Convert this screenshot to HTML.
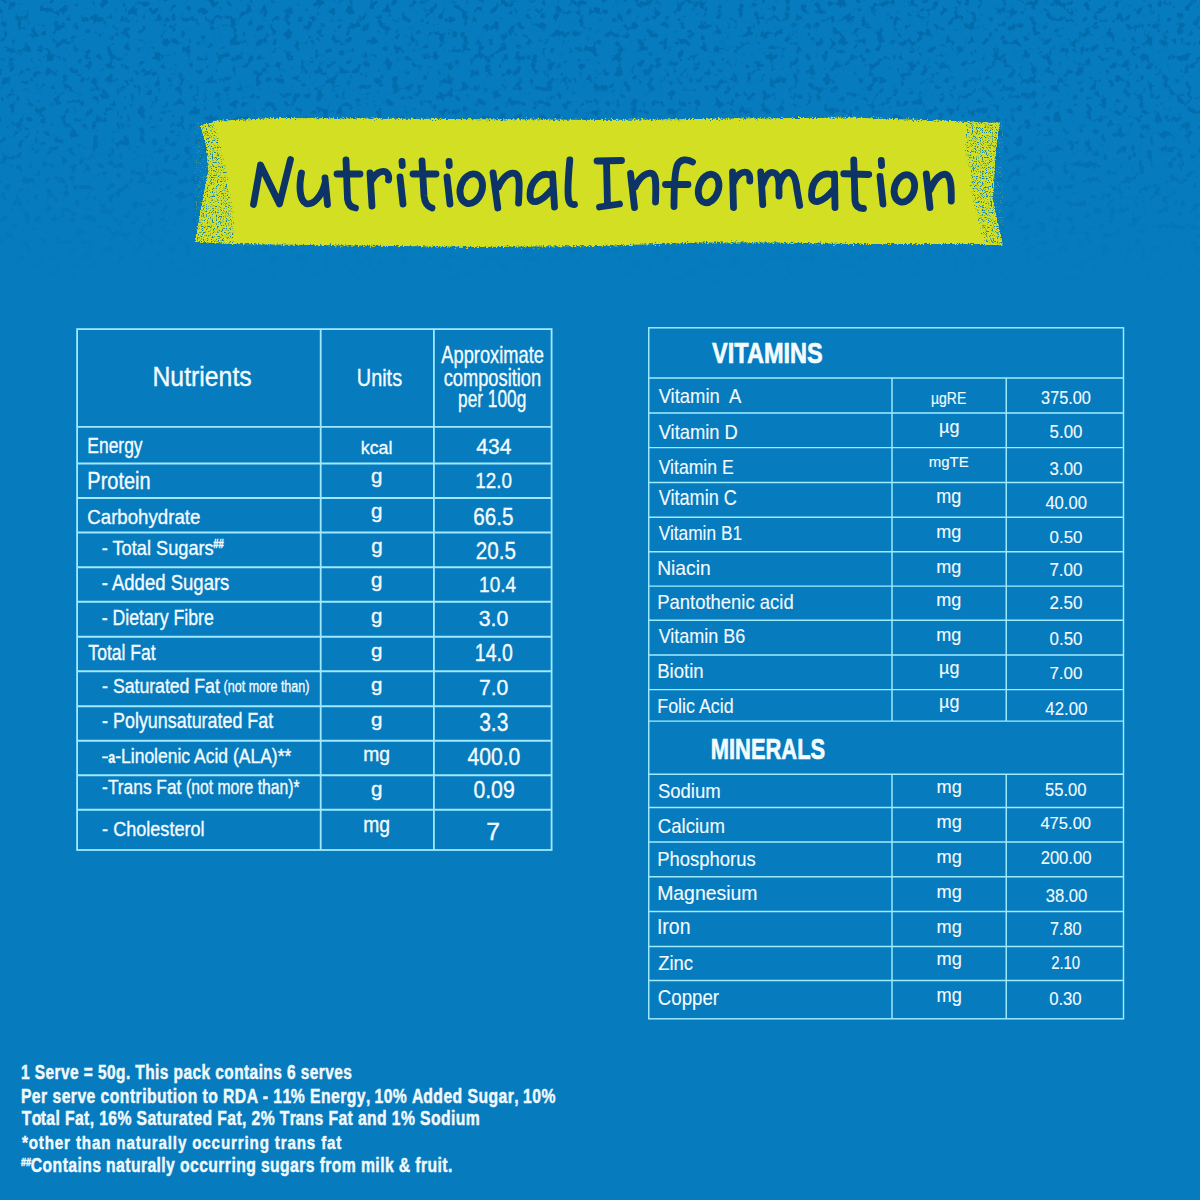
<!DOCTYPE html>
<html><head><meta charset="utf-8">
<style>
html,body{margin:0;padding:0;width:1200px;height:1200px;overflow:hidden;background:#067cbf;}
svg{display:block;}
text{font-family:"Liberation Sans",sans-serif;white-space:pre;}
</style></head>
<body>
<svg width="1200" height="1200" viewBox="0 0 1200 1200">
<defs>
<filter id="noise" x="0" y="0" width="100%" height="100%" color-interpolation-filters="sRGB">
<feTurbulence type="fractalNoise" baseFrequency="0.13" numOctaves="3" seed="7" result="t"/>
<feColorMatrix in="t" type="matrix" values="0 0 0 0 0.0  0 0 0 0 0.36  0 0 0 0 0.6  0 0 0 8 -4.5" />
</filter>
<linearGradient id="fade" x1="0" y1="0" x2="0" y2="1">
<stop offset="0" stop-color="#fff" stop-opacity="1"/>
<stop offset="0.1" stop-color="#fff" stop-opacity="0.85"/>
<stop offset="0.24" stop-color="#fff" stop-opacity="0"/>
</linearGradient>
<mask id="fm"><rect width="1200" height="1200" fill="url(#fade)"/></mask>
<filter id="rough" x="-5%" y="-20%" width="110%" height="140%">
<feTurbulence type="fractalNoise" baseFrequency="0.6" numOctaves="2" seed="3" result="n"/>
<feDisplacementMap in="SourceGraphic" in2="n" scale="6" xChannelSelector="R" yChannelSelector="G"/>
</filter>
<linearGradient id="gL" x1="0" x2="1"><stop offset="0" stop-color="#fff" stop-opacity="0.6"/><stop offset="1" stop-color="#fff" stop-opacity="1"/></linearGradient>
<linearGradient id="gR" x1="1" x2="0"><stop offset="0" stop-color="#fff" stop-opacity="0.6"/><stop offset="1" stop-color="#fff" stop-opacity="1"/></linearGradient>
<filter id="speck" x="0" y="0" width="1" height="1" color-interpolation-filters="sRGB">
<feTurbulence type="fractalNoise" baseFrequency="0.8" numOctaves="2" seed="11" result="n"/>
<feColorMatrix in="n" type="matrix" values="0 0 0 0 0  0 0 0 0 0  0 0 0 0 0  2.5 0 0 0 -0.75" result="na"/>
<feComposite in="SourceGraphic" in2="na" operator="arithmetic" k1="0" k2="1" k3="1" k4="-0.85" result="s"/>
<feComponentTransfer in="s" result="t"><feFuncA type="linear" slope="2.2" intercept="-0.05"/></feComponentTransfer>
<feFlood flood-color="#d3df22" result="f"/>
<feComposite in="f" in2="t" operator="in"/>
<feGaussianBlur stdDeviation="0.6"/>
</filter>
</defs>
<rect width="1200" height="1200" fill="#067cbf"/>
<rect width="1200" height="1200" filter="url(#noise)" mask="url(#fm)" opacity="0.55"/>
<g id="banner">
<path d="M213,121 L275,118 L450,119 L600,120 L700,119 L850,117.5 L950,121 L966,122 L966,150 L974,200 L986,244 L950,244 L850,244 L780,242.5 L700,242.5 L600,246 L480,247 L350,245.5 L234,244 L232,210 L225,170 Z" fill="#d3df22" filter="url(#rough)"/>
<path d="M200,125 L214,122 L226,170 L233,210 L235,244.5 L195,242 L201,207 L208,170 L206,146 Z" fill="#fff" fill-opacity="0.9" filter="url(#speck)"/>
<path d="M965,121.5 L1000,122.5 L996,150 L993,200 L1003,245.5 L985,245 L973,200 L965,150 Z" fill="#fff" fill-opacity="0.9" filter="url(#speck)"/>
</g>
<g id="title" fill="none" stroke="#0c3467" stroke-width="6.8" stroke-linecap="round" stroke-linejoin="round">
<path d="M253.5,204.5 L260.5,165 L279.5,204 L290.5,159.5"/>
<path d="M301.5,173 C299,185 299,200 306,203.5 C313,206 322,196 325,183 M325,178 L327.5,204.5"/>
<path d="M346,160 L347.5,199 Q348.5,207 355.5,208 M337,174 L360,174"/>
<path d="M370,173 L372,206 M372,180 C375,173 382,170 386,172 C389,174 389,178 388.5,180"/>
<path d="M400,177 L403,204 M402,161.5 L402.3,165.5"/>
<path d="M422,161 L424,196 Q425,206 432,208 M413,174 L436,174"/>
<path d="M447,177 L450,204 M449,161.5 L449.3,165.5"/>
<ellipse cx="471.25" cy="188.7" rx="10.8" ry="15.2" transform="rotate(18 471.25 188.7)"/>
<path d="M493,172.8 L497.8,208 M498.5,187 C503,176 511,171 516,174 C520,177 519.5,185 518.5,203"/>
<path d="M552,176 C541,170 530,182 530,195 C530,206 541,203 552,189 M552.5,174 L554.5,207"/>
<path d="M569.8,160 C568.5,175 567,190 568.5,199 Q569.5,205 574.5,204.5"/>
<path d="M597,161 L621.5,160.5 M606.5,162 L607.5,205.5 M599.5,207 L619.5,204"/>
<path d="M630.5,173.5 L634.5,207.5 M635,187 C640,176 648,171 653,174 C656.5,177 656,186 655.5,202"/>
<path d="M692.5,162 C688,159 680,158 677,166 C675,172 674,190 674,206.5 M665.5,184.5 L688,184.5"/>
<ellipse cx="708.6" cy="188.5" rx="9.8" ry="14.6" transform="rotate(18 708.6 188.5)"/>
<path d="M732.5,172 L733.5,207.5 M733.5,183 C736,175 742,171 747,172.5 C750,174 750,178 749.8,181"/>
<path d="M760.7,172 L762.8,204.5 M762.8,184 C765,176 769,172 773,172.5 C777,173 779,178 779,186 L779,196 M779,185 C781,177 785,172.5 789,172.5 C794,173 796,180 797,190 L799.7,205.5"/>
<path d="M834,175.5 C822,170 811.5,180 811.5,195 C811.5,205 822,204 834,189 M834.5,174 L835,207.5"/>
<path d="M853.75,160 L855,201 Q856,208.5 863.5,208.5 M843.75,173.75 L868.75,174.5"/>
<path d="M880,176.5 L883,204 M881.25,160.5 L881.6,165.5"/>
<ellipse cx="904.4" cy="188.4" rx="9.8" ry="14" transform="rotate(18 904.4 188.4)"/>
<path d="M926.25,174 L930,207.5 M930,190 C935,178 942,172 947,175 C951,178 951.5,188 951.25,201"/>
</g>
<g stroke="#a0e8fd" stroke-width="1.8" fill="none"><rect x="77.1" y="329.1" width="474.50" height="520.90" fill="none"/><line x1="320.7" y1="329.1" x2="320.7" y2="850"/><line x1="433.9" y1="329.1" x2="433.9" y2="850"/><line x1="77.1" y1="426.8" x2="551.6" y2="426.8"/><line x1="77.1" y1="463.5" x2="551.6" y2="463.5"/><line x1="77.1" y1="498" x2="551.6" y2="498"/><line x1="77.1" y1="532.5" x2="551.6" y2="532.5"/><line x1="77.1" y1="567.25" x2="551.6" y2="567.25"/><line x1="77.1" y1="601.75" x2="551.6" y2="601.75"/><line x1="77.1" y1="636.75" x2="551.6" y2="636.75"/><line x1="77.1" y1="671.25" x2="551.6" y2="671.25"/><line x1="77.1" y1="706.25" x2="551.6" y2="706.25"/><line x1="77.1" y1="740.75" x2="551.6" y2="740.75"/><line x1="77.1" y1="775.25" x2="551.6" y2="775.25"/><line x1="77.1" y1="809.75" x2="551.6" y2="809.75"/></g><g stroke="#a0ecff" stroke-width="1.45" fill="none"><rect x="648.75" y="327.8" width="474.75" height="691.00" fill="none"/><line x1="648.75" y1="378" x2="1123.5" y2="378"/><line x1="648.75" y1="413" x2="1123.5" y2="413"/><line x1="648.75" y1="447.6" x2="1123.5" y2="447.6"/><line x1="648.75" y1="482.5" x2="1123.5" y2="482.5"/><line x1="648.75" y1="517.2" x2="1123.5" y2="517.2"/><line x1="648.75" y1="551.8" x2="1123.5" y2="551.8"/><line x1="648.75" y1="586.1" x2="1123.5" y2="586.1"/><line x1="648.75" y1="620.3" x2="1123.5" y2="620.3"/><line x1="648.75" y1="654.9" x2="1123.5" y2="654.9"/><line x1="648.75" y1="689.6" x2="1123.5" y2="689.6"/><line x1="648.75" y1="721.1" x2="1123.5" y2="721.1"/><line x1="648.75" y1="774.2" x2="1123.5" y2="774.2"/><line x1="648.75" y1="807.5" x2="1123.5" y2="807.5"/><line x1="648.75" y1="842" x2="1123.5" y2="842"/><line x1="648.75" y1="876.8" x2="1123.5" y2="876.8"/><line x1="648.75" y1="911.5" x2="1123.5" y2="911.5"/><line x1="648.75" y1="946.5" x2="1123.5" y2="946.5"/><line x1="648.75" y1="980.4" x2="1123.5" y2="980.4"/><line x1="892" y1="378" x2="892" y2="721.1"/><line x1="892" y1="774.2" x2="892" y2="1018.8"/><line x1="1006.25" y1="378" x2="1006.25" y2="721.1"/><line x1="1006.25" y1="774.2" x2="1006.25" y2="1018.8"/></g>
<text x="152.45" y="386.10" font-size="26.90" fill="#f4fbff" textLength="99.29" lengthAdjust="spacingAndGlyphs" stroke="#f4fbff" stroke-width="0.35">Nutrients</text>
<text x="356.76" y="386.30" font-size="24.00" fill="#f4fbff" textLength="45.36" lengthAdjust="spacingAndGlyphs" stroke="#f4fbff" stroke-width="0.35">Units</text>
<text x="441.35" y="362.50" font-size="24.00" fill="#f4fbff" textLength="102.55" lengthAdjust="spacingAndGlyphs" stroke="#f4fbff" stroke-width="0.35">Approximate</text>
<text x="443.72" y="386.30" font-size="23.17" fill="#f4fbff" textLength="97.44" lengthAdjust="spacingAndGlyphs" stroke="#f4fbff" stroke-width="0.35">composition</text>
<text x="458.08" y="407.00" font-size="24.37" fill="#f4fbff" textLength="68.21" lengthAdjust="spacingAndGlyphs" stroke="#f4fbff" stroke-width="0.35">per 100g</text>
<text x="87.31" y="453.10" font-size="22.33" fill="#f4fbff" textLength="55.25" lengthAdjust="spacingAndGlyphs" stroke="#f4fbff" stroke-width="0.35">Energy</text>
<text x="87.35" y="489.40" font-size="23.31" fill="#f4fbff" textLength="63.32" lengthAdjust="spacingAndGlyphs" stroke="#f4fbff" stroke-width="0.35">Protein</text>
<text x="87.32" y="523.75" font-size="20.69" fill="#f4fbff" textLength="113.01" lengthAdjust="spacingAndGlyphs" stroke="#f4fbff" stroke-width="0.35">Carbohydrate</text>
<text x="101.68" y="555.00" font-size="20.69" fill="#f4fbff" textLength="112.04" lengthAdjust="spacingAndGlyphs" stroke="#f4fbff" stroke-width="0.35">- Total Sugars</text>
<text x="213.33" y="547.50" font-size="11.91" font-weight="bold" fill="#f4fbff" textLength="10.58" lengthAdjust="spacingAndGlyphs" stroke="#f4fbff" stroke-width="0.35">##</text>
<text x="101.67" y="590.00" font-size="21.52" fill="#f4fbff" textLength="127.71" lengthAdjust="spacingAndGlyphs" stroke="#f4fbff" stroke-width="0.35">- Added Sugars</text>
<text x="101.70" y="625.00" font-size="21.38" fill="#f4fbff" textLength="112.09" lengthAdjust="spacingAndGlyphs" stroke="#f4fbff" stroke-width="0.35">- Dietary Fibre</text>
<text x="88.36" y="660.00" font-size="21.38" fill="#f4fbff" textLength="67.28" lengthAdjust="spacingAndGlyphs" stroke="#f4fbff" stroke-width="0.35">Total Fat</text>
<text x="102.11" y="692.50" font-size="19.45" fill="#f4fbff" textLength="117.73" lengthAdjust="spacingAndGlyphs" stroke="#f4fbff" stroke-width="0.35">- Saturated Fat</text>
<text x="223.61" y="692.10" font-size="17.03" fill="#f4fbff" textLength="85.91" lengthAdjust="spacingAndGlyphs" stroke="#f4fbff" stroke-width="0.35">(not more than)</text>
<text x="102.09" y="728.10" font-size="21.93" fill="#f4fbff" textLength="171.16" lengthAdjust="spacingAndGlyphs" stroke="#f4fbff" stroke-width="0.35">- Polyunsaturated Fat</text>
<rect x="102.2" y="756.4" width="5.8" height="1.9" fill="#f4fbff"/>
<text x="108.33" y="762.74" font-size="16.26" font-weight="bold" fill="#f4fbff" textLength="6.89" lengthAdjust="spacingAndGlyphs" stroke="#f4fbff" stroke-width="0.35">a</text>
<text x="115.21" y="762.90" font-size="20.00" fill="#f4fbff" textLength="176.07" lengthAdjust="spacingAndGlyphs" stroke="#f4fbff" stroke-width="0.35">-Linolenic Acid (ALA)**</text>
<text x="102.12" y="794.40" font-size="20.51" fill="#f4fbff" textLength="79.31" lengthAdjust="spacingAndGlyphs" stroke="#f4fbff" stroke-width="0.35">-Trans Fat</text>
<text x="185.92" y="794.40" font-size="19.45" fill="#f4fbff" textLength="113.73" lengthAdjust="spacingAndGlyphs" stroke="#f4fbff" stroke-width="0.35">(not more than)*</text>
<text x="102.09" y="835.60" font-size="20.69" fill="#f4fbff" textLength="102.52" lengthAdjust="spacingAndGlyphs" stroke="#f4fbff" stroke-width="0.35">- Cholesterol</text>
<text x="360.80" y="453.56" font-size="18.71" fill="#f4fbff" textLength="31.67" lengthAdjust="spacingAndGlyphs" stroke="#f4fbff" stroke-width="0.35">kcal</text>
<text x="371.13" y="483.32" font-size="20.13" fill="#f4fbff" textLength="11.43" lengthAdjust="spacingAndGlyphs" stroke="#f4fbff" stroke-width="0.35">g</text>
<text x="371.13" y="518.32" font-size="20.13" fill="#f4fbff" textLength="11.43" lengthAdjust="spacingAndGlyphs" stroke="#f4fbff" stroke-width="0.35">g</text>
<text x="371.13" y="553.18" font-size="20.81" fill="#f4fbff" textLength="11.43" lengthAdjust="spacingAndGlyphs" stroke="#f4fbff" stroke-width="0.35">g</text>
<text x="371.13" y="587.07" font-size="20.13" fill="#f4fbff" textLength="11.43" lengthAdjust="spacingAndGlyphs" stroke="#f4fbff" stroke-width="0.35">g</text>
<text x="371.13" y="623.32" font-size="20.13" fill="#f4fbff" textLength="11.43" lengthAdjust="spacingAndGlyphs" stroke="#f4fbff" stroke-width="0.35">g</text>
<text x="371.13" y="657.28" font-size="19.13" fill="#f4fbff" textLength="11.43" lengthAdjust="spacingAndGlyphs" stroke="#f4fbff" stroke-width="0.35">g</text>
<text x="371.13" y="691.17" font-size="18.46" fill="#f4fbff" textLength="11.43" lengthAdjust="spacingAndGlyphs" stroke="#f4fbff" stroke-width="0.35">g</text>
<text x="371.13" y="726.17" font-size="18.46" fill="#f4fbff" textLength="11.43" lengthAdjust="spacingAndGlyphs" stroke="#f4fbff" stroke-width="0.35">g</text>
<text x="371.13" y="795.82" font-size="20.13" fill="#f4fbff" textLength="11.43" lengthAdjust="spacingAndGlyphs" stroke="#f4fbff" stroke-width="0.35">g</text>
<text x="363.20" y="760.82" font-size="20.13" fill="#f4fbff" textLength="26.79" lengthAdjust="spacingAndGlyphs" stroke="#f4fbff" stroke-width="0.35">mg</text>
<text x="363.20" y="831.72" font-size="21.81" fill="#f4fbff" textLength="26.79" lengthAdjust="spacingAndGlyphs" stroke="#f4fbff" stroke-width="0.35">mg</text>
<text x="476.28" y="454.25" font-size="22.22" fill="#f4fbff" textLength="35.07" lengthAdjust="spacingAndGlyphs" stroke="#f4fbff" stroke-width="0.35">434</text>
<text x="475.34" y="488.00" font-size="22.22" fill="#f4fbff" textLength="36.64" lengthAdjust="spacingAndGlyphs" stroke="#f4fbff" stroke-width="0.35">12.0</text>
<text x="473.22" y="525.00" font-size="23.30" fill="#f4fbff" textLength="40.13" lengthAdjust="spacingAndGlyphs" stroke="#f4fbff" stroke-width="0.35">66.5</text>
<text x="475.72" y="558.75" font-size="23.30" fill="#f4fbff" textLength="40.13" lengthAdjust="spacingAndGlyphs" stroke="#f4fbff" stroke-width="0.35">20.5</text>
<text x="479.08" y="592.00" font-size="22.58" fill="#f4fbff" textLength="36.97" lengthAdjust="spacingAndGlyphs" stroke="#f4fbff" stroke-width="0.35">10.4</text>
<text x="478.70" y="626.25" font-size="21.51" fill="#f4fbff" textLength="29.60" lengthAdjust="spacingAndGlyphs" stroke="#f4fbff" stroke-width="0.35">3.0</text>
<text x="474.79" y="661.25" font-size="24.01" fill="#f4fbff" textLength="37.97" lengthAdjust="spacingAndGlyphs" stroke="#f4fbff" stroke-width="0.35">14.0</text>
<text x="478.94" y="695.00" font-size="22.58" fill="#f4fbff" textLength="29.35" lengthAdjust="spacingAndGlyphs" stroke="#f4fbff" stroke-width="0.35">7.0</text>
<text x="479.21" y="731.25" font-size="25.09" fill="#f4fbff" textLength="29.18" lengthAdjust="spacingAndGlyphs" stroke="#f4fbff" stroke-width="0.35">3.3</text>
<text x="467.53" y="765.00" font-size="23.30" fill="#f4fbff" textLength="52.77" lengthAdjust="spacingAndGlyphs" stroke="#f4fbff" stroke-width="0.35">400.0</text>
<text x="473.40" y="797.50" font-size="23.30" fill="#f4fbff" textLength="41.33" lengthAdjust="spacingAndGlyphs" stroke="#f4fbff" stroke-width="0.35">0.09</text>
<text x="486.26" y="839.50" font-size="24.73" fill="#f4fbff" textLength="13.75" lengthAdjust="spacingAndGlyphs" stroke="#f4fbff" stroke-width="0.35">7</text>
<text x="712.07" y="363.00" font-size="29.25" font-weight="bold" fill="#f4fbff" textLength="110.74" lengthAdjust="spacingAndGlyphs" stroke="#f4fbff" stroke-width="0.7" stroke-linejoin="round">VITAMINS</text>
<text x="710.77" y="758.60" font-size="30.11" font-weight="bold" fill="#f4fbff" textLength="114.40" lengthAdjust="spacingAndGlyphs" stroke="#f4fbff" stroke-width="0.7" stroke-linejoin="round">MINERALS</text>
<text x="658.66" y="402.50" font-size="20.69" fill="#f4fbff" textLength="82.62" lengthAdjust="spacingAndGlyphs" stroke="#f4fbff" stroke-width="0.12">Vitamin  A</text>
<text x="658.66" y="438.75" font-size="20.69" fill="#f4fbff" textLength="79.20" lengthAdjust="spacingAndGlyphs" stroke="#f4fbff" stroke-width="0.12">Vitamin D</text>
<text x="658.66" y="473.75" font-size="20.69" fill="#f4fbff" textLength="75.07" lengthAdjust="spacingAndGlyphs" stroke="#f4fbff" stroke-width="0.12">Vitamin E</text>
<text x="658.66" y="505.00" font-size="21.38" fill="#f4fbff" textLength="78.25" lengthAdjust="spacingAndGlyphs" stroke="#f4fbff" stroke-width="0.12">Vitamin C</text>
<text x="658.66" y="539.50" font-size="20.69" fill="#f4fbff" textLength="83.41" lengthAdjust="spacingAndGlyphs" stroke="#f4fbff" stroke-width="0.12">Vitamin B1</text>
<text x="657.16" y="574.50" font-size="20.69" fill="#f4fbff" textLength="53.57" lengthAdjust="spacingAndGlyphs" stroke="#f4fbff" stroke-width="0.12">Niacin</text>
<text x="657.23" y="608.75" font-size="20.69" fill="#f4fbff" textLength="136.46" lengthAdjust="spacingAndGlyphs" stroke="#f4fbff" stroke-width="0.12">Pantothenic acid</text>
<text x="658.66" y="643.25" font-size="20.69" fill="#f4fbff" textLength="86.60" lengthAdjust="spacingAndGlyphs" stroke="#f4fbff" stroke-width="0.12">Vitamin B6</text>
<text x="657.22" y="678.25" font-size="20.69" fill="#f4fbff" textLength="46.47" lengthAdjust="spacingAndGlyphs" stroke="#f4fbff" stroke-width="0.12">Biotin</text>
<text x="657.28" y="712.50" font-size="20.69" fill="#f4fbff" textLength="76.37" lengthAdjust="spacingAndGlyphs" stroke="#f4fbff" stroke-width="0.12">Folic Acid</text>
<text x="657.92" y="798.00" font-size="20.69" fill="#f4fbff" textLength="62.80" lengthAdjust="spacingAndGlyphs" stroke="#f4fbff" stroke-width="0.12">Sodium</text>
<text x="657.82" y="832.50" font-size="20.69" fill="#f4fbff" textLength="67.13" lengthAdjust="spacingAndGlyphs" stroke="#f4fbff" stroke-width="0.12">Calcium</text>
<text x="657.23" y="865.75" font-size="20.00" fill="#f4fbff" textLength="98.41" lengthAdjust="spacingAndGlyphs" stroke="#f4fbff" stroke-width="0.12">Phosphorus</text>
<text x="657.15" y="900.00" font-size="19.66" fill="#f4fbff" textLength="100.40" lengthAdjust="spacingAndGlyphs" stroke="#f4fbff" stroke-width="0.12">Magnesium</text>
<text x="656.95" y="934.25" font-size="21.45" fill="#f4fbff" textLength="33.53" lengthAdjust="spacingAndGlyphs" stroke="#f4fbff" stroke-width="0.12">Iron</text>
<text x="658.15" y="969.50" font-size="20.69" fill="#f4fbff" textLength="34.84" lengthAdjust="spacingAndGlyphs" stroke="#f4fbff" stroke-width="0.12">Zinc</text>
<text x="657.82" y="1004.50" font-size="21.51" fill="#f4fbff" textLength="61.21" lengthAdjust="spacingAndGlyphs" stroke="#f4fbff" stroke-width="0.12">Copper</text>
<text x="931.06" y="404.00" font-size="16.36" fill="#f4fbff" textLength="35.22" lengthAdjust="spacingAndGlyphs" stroke="#f4fbff" stroke-width="0.12">µgRE</text>
<text x="939.03" y="433.02" font-size="17.72" fill="#f4fbff" textLength="20.38" lengthAdjust="spacingAndGlyphs" stroke="#f4fbff" stroke-width="0.12">µg</text>
<text x="928.74" y="466.70" font-size="14.84" fill="#f4fbff" textLength="39.89" lengthAdjust="spacingAndGlyphs" stroke="#f4fbff" stroke-width="0.12">mgTE</text>
<text x="936.28" y="503.11" font-size="19.73" fill="#f4fbff" textLength="25.08" lengthAdjust="spacingAndGlyphs" stroke="#f4fbff" stroke-width="0.12">mg</text>
<text x="936.28" y="538.02" font-size="19.19" fill="#f4fbff" textLength="25.08" lengthAdjust="spacingAndGlyphs" stroke="#f4fbff" stroke-width="0.12">mg</text>
<text x="936.28" y="573.03" font-size="19.13" fill="#f4fbff" textLength="25.08" lengthAdjust="spacingAndGlyphs" stroke="#f4fbff" stroke-width="0.12">mg</text>
<text x="936.28" y="606.24" font-size="18.12" fill="#f4fbff" textLength="25.08" lengthAdjust="spacingAndGlyphs" stroke="#f4fbff" stroke-width="0.12">mg</text>
<text x="936.28" y="640.92" font-size="18.46" fill="#f4fbff" textLength="25.08" lengthAdjust="spacingAndGlyphs" stroke="#f4fbff" stroke-width="0.12">mg</text>
<text x="939.03" y="674.44" font-size="18.12" fill="#f4fbff" textLength="20.38" lengthAdjust="spacingAndGlyphs" stroke="#f4fbff" stroke-width="0.12">µg</text>
<text x="939.03" y="708.24" font-size="18.12" fill="#f4fbff" textLength="20.38" lengthAdjust="spacingAndGlyphs" stroke="#f4fbff" stroke-width="0.12">µg</text>
<text x="936.47" y="793.24" font-size="18.12" fill="#f4fbff" textLength="25.30" lengthAdjust="spacingAndGlyphs" stroke="#f4fbff" stroke-width="0.12">mg</text>
<text x="936.47" y="828.11" font-size="18.26" fill="#f4fbff" textLength="25.30" lengthAdjust="spacingAndGlyphs" stroke="#f4fbff" stroke-width="0.12">mg</text>
<text x="936.47" y="863.11" font-size="18.26" fill="#f4fbff" textLength="25.30" lengthAdjust="spacingAndGlyphs" stroke="#f4fbff" stroke-width="0.12">mg</text>
<text x="936.47" y="898.11" font-size="18.26" fill="#f4fbff" textLength="25.30" lengthAdjust="spacingAndGlyphs" stroke="#f4fbff" stroke-width="0.12">mg</text>
<text x="936.47" y="932.80" font-size="18.79" fill="#f4fbff" textLength="25.30" lengthAdjust="spacingAndGlyphs" stroke="#f4fbff" stroke-width="0.12">mg</text>
<text x="936.47" y="965.21" font-size="18.26" fill="#f4fbff" textLength="25.30" lengthAdjust="spacingAndGlyphs" stroke="#f4fbff" stroke-width="0.12">mg</text>
<text x="936.47" y="1002.43" font-size="19.60" fill="#f4fbff" textLength="25.30" lengthAdjust="spacingAndGlyphs" stroke="#f4fbff" stroke-width="0.12">mg</text>
<text x="1041.09" y="403.70" font-size="17.85" fill="#f4fbff" textLength="49.84" lengthAdjust="spacingAndGlyphs" stroke="#f4fbff" stroke-width="0.12">375.00</text>
<text x="1049.58" y="437.75" font-size="17.85" fill="#f4fbff" textLength="32.83" lengthAdjust="spacingAndGlyphs" stroke="#f4fbff" stroke-width="0.12">5.00</text>
<text x="1049.62" y="474.75" font-size="18.71" fill="#f4fbff" textLength="32.79" lengthAdjust="spacingAndGlyphs" stroke="#f4fbff" stroke-width="0.12">3.00</text>
<text x="1045.38" y="509.00" font-size="17.63" fill="#f4fbff" textLength="41.50" lengthAdjust="spacingAndGlyphs" stroke="#f4fbff" stroke-width="0.12">40.00</text>
<text x="1049.58" y="542.70" font-size="17.20" fill="#f4fbff" textLength="32.83" lengthAdjust="spacingAndGlyphs" stroke="#f4fbff" stroke-width="0.12">0.50</text>
<text x="1049.40" y="575.50" font-size="18.28" fill="#f4fbff" textLength="33.01" lengthAdjust="spacingAndGlyphs" stroke="#f4fbff" stroke-width="0.12">7.00</text>
<text x="1049.40" y="609.25" font-size="18.28" fill="#f4fbff" textLength="33.01" lengthAdjust="spacingAndGlyphs" stroke="#f4fbff" stroke-width="0.12">2.50</text>
<text x="1049.58" y="644.75" font-size="18.71" fill="#f4fbff" textLength="32.83" lengthAdjust="spacingAndGlyphs" stroke="#f4fbff" stroke-width="0.12">0.50</text>
<text x="1049.40" y="679.00" font-size="17.20" fill="#f4fbff" textLength="33.01" lengthAdjust="spacingAndGlyphs" stroke="#f4fbff" stroke-width="0.12">7.00</text>
<text x="1045.37" y="715.00" font-size="18.35" fill="#f4fbff" textLength="41.96" lengthAdjust="spacingAndGlyphs" stroke="#f4fbff" stroke-width="0.12">42.00</text>
<text x="1044.94" y="796.00" font-size="17.92" fill="#f4fbff" textLength="41.49" lengthAdjust="spacingAndGlyphs" stroke="#f4fbff" stroke-width="0.12">55.00</text>
<text x="1040.43" y="829.40" font-size="17.06" fill="#f4fbff" textLength="50.61" lengthAdjust="spacingAndGlyphs" stroke="#f4fbff" stroke-width="0.12">475.00</text>
<text x="1040.67" y="863.75" font-size="17.92" fill="#f4fbff" textLength="50.77" lengthAdjust="spacingAndGlyphs" stroke="#f4fbff" stroke-width="0.12">200.00</text>
<text x="1045.63" y="901.70" font-size="18.57" fill="#f4fbff" textLength="41.70" lengthAdjust="spacingAndGlyphs" stroke="#f4fbff" stroke-width="0.12">38.00</text>
<text x="1049.99" y="934.60" font-size="18.49" fill="#f4fbff" textLength="31.64" lengthAdjust="spacingAndGlyphs" stroke="#f4fbff" stroke-width="0.12">7.80</text>
<text x="1051.15" y="969.00" font-size="17.92" fill="#f4fbff" textLength="29.03" lengthAdjust="spacingAndGlyphs" stroke="#f4fbff" stroke-width="0.12">2.10</text>
<text x="1049.13" y="1005.00" font-size="18.78" fill="#f4fbff" textLength="32.52" lengthAdjust="spacingAndGlyphs" stroke="#f4fbff" stroke-width="0.12">0.30</text>
<text transform="scale(0.8,1)" x="26.29 37.58 43.49 56.91 68.20 76.25 87.54 98.82 104.73 116.55 122.46 133.75 145.03 157.37 163.28 169.19 181.53 193.87 199.78 211.07 216.97 229.31 240.60 251.88 263.17 269.08 280.36 292.70 305.04 312.02 323.30 329.21 341.55 352.83 358.74 370.03 375.94 387.22 398.51 406.57 417.85 429.13" y="1079.50" font-size="19.31" font-weight="bold" fill="#f2f9fd" stroke="#f2f9fd" stroke-width="0.45">1 Serve = 50g. This pack contains 6 serves</text>
<text transform="scale(0.8,1)" x="26.17 39.84 51.34 59.55 65.57 77.06 88.55 96.76 108.25 119.75 125.77 137.26 149.83 162.40 169.50 177.71 183.73 196.30 208.87 215.97 222.00 234.56 247.13 253.15 260.26 272.82 278.85 293.60 308.36 323.11 328.40 335.51 341.53 353.02 363.43 381.47 387.49 401.16 413.73 425.22 433.43 446.00 457.49 462.05 468.08 479.57 491.06 509.10 515.12 529.15 541.71 554.28 565.77 578.34 584.36 598.03 610.60 623.17 634.66 642.87 647.81 653.83 665.32 676.81" y="1103.00" font-size="19.66" font-weight="bold" fill="#f2f9fd" stroke="#f2f9fd" stroke-width="0.45">Per serve contribution to RDA - 11% Energy, 10% Added Sugar, 10%</text>
<text transform="scale(0.8,1)" x="27.30 39.79 50.82 57.85 69.27 75.21 81.16 93.65 105.06 112.09 118.04 123.98 135.40 146.81 164.77 170.72 184.31 195.72 202.75 215.24 223.38 234.79 241.82 253.23 265.72 271.67 284.16 295.57 302.60 308.55 314.49 325.91 343.87 349.81 362.30 369.35 380.77 393.26 404.67 410.62 423.11 434.52 441.55 447.49 458.91 471.40 483.89 489.83 501.25 519.21 525.15 538.75 551.24 563.73 569.67 582.16" y="1125.50" font-size="19.66" font-weight="bold" fill="#f2f9fd" stroke="#f2f9fd" stroke-width="0.45">Total Fat, 16% Saturated Fat, 2% Trans Fat and 1% Sodium</text>
<text transform="scale(0.8,1)" x="27.45 35.89 48.52 55.89 68.53 80.13 88.56 94.88 102.25 114.89 126.49 139.13 145.45 158.08 169.69 177.05 189.69 198.12 209.72 216.05 222.37 233.97 240.29 252.93 264.53 276.13 288.76 297.20 305.63 311.95 324.59 337.23 343.55 350.92 359.35 370.95 383.59 395.19 401.51 408.88 420.48" y="1148.75" font-size="18.97" font-weight="bold" fill="#f2f9fd" stroke="#f2f9fd" stroke-width="0.45">*other than naturally occurring trans fat</text>
<text x="21.09" y="1166.00" font-size="11.76" font-weight="bold" fill="#f2f9fd" textLength="10.07" lengthAdjust="spacingAndGlyphs" stroke="#f2f9fd" stroke-width="0.45">##</text>
<text transform="scale(0.8,1)" x="38.59 53.28 65.79 78.30 85.35 96.78 102.74 115.25 126.68 132.65 145.16 156.59 163.64 176.14 184.29 195.73 201.69 207.65 219.09 225.05 237.56 248.99 260.42 272.93 281.08 289.23 295.19 307.70 320.21 326.17 337.61 350.11 362.62 374.06 382.21 393.64 399.60 406.65 414.80 427.31 445.29 451.25 469.23 475.19 481.15 492.59 498.55 513.24 519.21 526.25 534.40 546.91 552.88 559.92" y="1171.75" font-size="19.66" font-weight="bold" fill="#f2f9fd" stroke="#f2f9fd" stroke-width="0.45">Contains naturally occurring sugars from milk &amp; fruit.</text>
</svg>
</body></html>
